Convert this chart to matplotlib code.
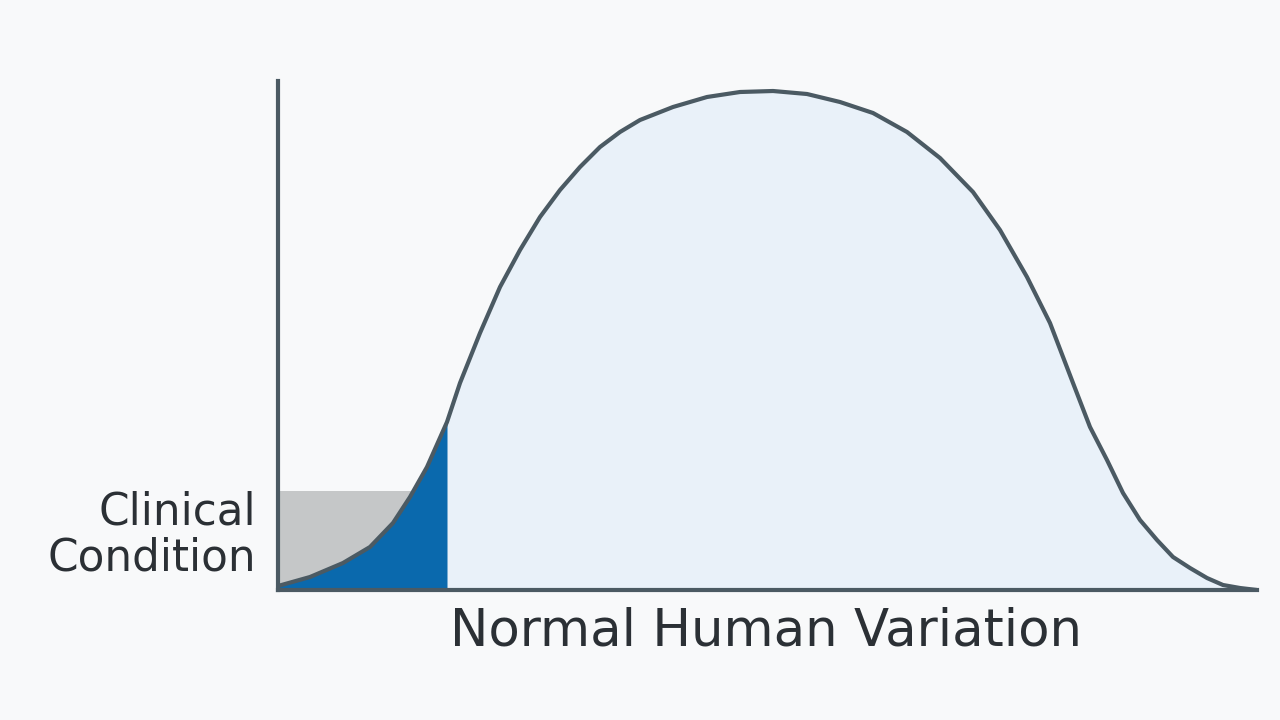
"""Normal human variation curve with the clinical-condition tail highlighted."""
import numpy as np
import matplotlib
matplotlib.use("Agg")
import matplotlib.pyplot as plt

# trait value (x) and relative frequency (y), arbitrary units
trait = [0, 32, 65, 92, 115, 132, 149, 169, 182, 202, 222, 242, 262, 282, 302,
         322, 342, 362, 395, 429, 462, 495, 529, 562, 595, 629, 662, 695, 722,
         749, 772, 795, 812, 829, 845, 862, 879, 895, 912, 929, 945, 962, 979]
freq = [4, 13, 27, 43, 67, 93, 123, 168, 207, 257, 303, 340, 373, 400, 423,
        443, 458, 470, 483, 493, 498, 499, 496, 488, 477, 458, 432, 398, 360,
        313, 267, 207, 163, 130, 97, 70, 50, 33, 22, 12, 5, 2, 0]

CLINICAL_CUTOFF = 169     # end of the dark-blue tail
CLINICAL_LEVEL = 99       # height of the grey "clinical condition" band
CLINICAL_BAND_END = 140

BG = "#f8f9fa"
FILL = "#e9f1f9"
TAIL = "#0a69ad"
GREY = "#c5c7c8"
LINE = "#4b5a63"
TEXT = "#2b3035"

plt.rcParams["font.family"] = ["DejaVu Sans"]

fig = plt.figure(figsize=(12.8, 7.2), dpi=100, facecolor=BG)
ax = fig.add_axes([278 / 1280, 130 / 720, 979 / 1280, 509 / 720])
ax.set_facecolor(BG)

x = np.array(trait, dtype=float)
y = np.array(freq, dtype=float)

ax.fill_between([0, CLINICAL_BAND_END], 0, CLINICAL_LEVEL, color=GREY, lw=0, zorder=1)
ax.fill_between(x, 0, y, color=FILL, lw=0, zorder=2)
tail = x <= CLINICAL_CUTOFF
ax.fill_between(x[tail], 0, y[tail], color=TAIL, lw=0, zorder=3)
ax.plot(x, y, color=LINE, lw=3, solid_capstyle="round", solid_joinstyle="round", zorder=4)

ax.set_xlim(0, 979)
ax.set_ylim(0, 509)
for side in ("top", "right"):
    ax.spines[side].set_visible(False)
for side in ("left", "bottom"):
    ax.spines[side].set_color(LINE)
    ax.spines[side].set_linewidth(3)
    ax.spines[side].set_zorder(5)
ax.set_xticks([])
ax.set_yticks([])

fig.text(256 / 1280, 1 - 535 / 720, "Clinical\nCondition", ha="right", va="center",
         fontsize=31.5, color=TEXT, linespacing=1.1)
fig.text(766 / 1280, 1 - 632 / 720, "Normal Human Variation", ha="center", va="center",
         fontsize=37, color=TEXT)

fig.savefig("out.png", dpi=100, facecolor=BG)
